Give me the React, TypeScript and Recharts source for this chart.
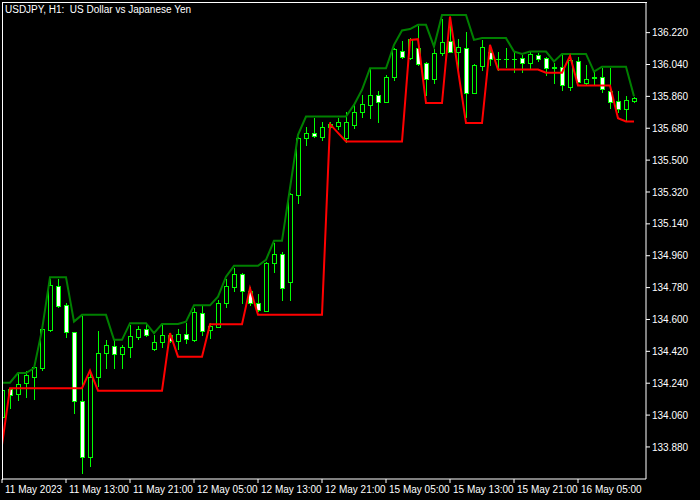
import React from "react";
import { ComposedChart, Bar, Line, XAxis, YAxis } from "recharts";

const FONT = "'Liberation Sans', Arial, sans-serif";

// time axis labels, one every 8 bars
const timeTicks = [0, 8, 16, 24, 32, 40, 48, 56, 64, 72];
const timeLabels = [
  "11 May 2023",
  "11 May 13:00",
  "11 May 21:00",
  "12 May 05:00",
  "12 May 13:00",
  "12 May 21:00",
  "15 May 05:00",
  "15 May 13:00",
  "15 May 21:00",
  "16 May 05:00",
];

const priceTicks = [
  133.88, 134.06, 134.24, 134.42, 134.6, 134.78, 134.96, 135.14, 135.32, 135.5,
  135.68, 135.86, 136.04, 136.22,
];

// USDJPY H1 candles
const opens = [
  134.050, 134.208, 134.178, 134.240, 134.277, 134.328, 134.541, 134.790, 134.682, 134.530,
  134.139, 133.826, 134.277, 134.410, 134.452, 134.404, 134.443, 134.503, 134.545, 134.432,
  134.475, 134.511, 134.481, 134.519, 134.485, 134.635, 134.541, 134.560, 134.692, 134.786,
  134.856, 134.758, 134.692, 134.650, 134.921, 134.970, 134.814, 135.304, 135.624, 135.652,
  135.633, 135.688, 135.693, 135.627, 135.699, 135.769, 135.812, 135.868, 135.831, 135.968,
  136.119, 136.076, 136.132, 136.047, 135.957, 136.104, 136.175, 136.113, 136.132, 135.881,
  136.032, 136.113, 136.072, 136.070, 136.072, 136.076, 136.051, 136.094, 136.076, 136.022,
  136.028, 135.915, 136.057, 135.938, 135.966, 135.968, 135.893, 135.835, 135.788, 135.836,
];
const highs = [
  134.214, 134.214, 134.293, 134.308, 134.333, 134.551, 134.831, 134.831, 134.692, 134.532,
  134.620, 134.306, 134.537, 134.485, 134.485, 134.456, 134.569, 134.564, 134.569, 134.513,
  134.569, 134.524, 134.547, 134.579, 134.667, 134.682, 134.579, 134.711, 134.828, 134.893,
  134.863, 134.786, 134.745, 134.922, 135.031, 134.983, 135.312, 135.628, 135.689, 135.737,
  135.714, 135.716, 135.737, 135.774, 135.812, 135.868, 136.019, 135.891, 135.981, 136.131,
  136.175, 136.188, 136.258, 136.052, 136.127, 136.296, 136.311, 136.183, 136.226, 136.041,
  136.179, 136.132, 136.113, 136.132, 136.113, 136.094, 136.113, 136.104, 136.080, 136.047,
  136.094, 136.094, 136.085, 136.038, 136.000, 136.019, 136.019, 135.893, 135.863, 135.859,
];
const lows = [
  134.033, 134.101, 134.146, 134.161, 134.150, 134.315, 134.537, 134.673, 134.500, 134.074,
  133.732, 133.773, 134.225, 134.325, 134.325, 134.325, 134.390, 134.490, 134.507, 134.430,
  134.447, 134.473, 134.432, 134.466, 134.481, 134.513, 134.496, 134.555, 134.669, 134.758,
  134.692, 134.682, 134.648, 134.648, 134.870, 134.711, 134.711, 135.257, 135.586, 135.633,
  135.614, 135.682, 135.675, 135.605, 135.684, 135.746, 135.737, 135.718, 135.826, 135.953,
  136.077, 136.072, 136.038, 135.868, 135.934, 136.094, 136.108, 135.991, 135.746, 135.877,
  136.010, 136.038, 136.010, 136.028, 136.000, 136.000, 136.019, 136.057, 135.981, 135.938,
  135.897, 135.897, 135.939, 135.925, 135.925, 135.887, 135.793, 135.774, 135.727, 135.831,
];
const closes = [
  134.202, 134.174, 134.236, 134.285, 134.331, 134.545, 134.794, 134.678, 134.532, 134.142,
  133.826, 134.277, 134.410, 134.456, 134.404, 134.443, 134.506, 134.545, 134.511, 134.472,
  134.511, 134.481, 134.519, 134.492, 134.641, 134.537, 134.564, 134.692, 134.790, 134.856,
  134.758, 134.692, 134.654, 134.918, 134.970, 134.777, 135.308, 135.624, 135.652, 135.637,
  135.686, 135.705, 135.714, 135.718, 135.771, 135.818, 135.868, 135.831, 135.968, 136.127,
  136.081, 136.183, 136.044, 135.957, 136.104, 136.169, 136.113, 136.138, 135.881, 136.038,
  136.138, 136.070, 136.070, 136.072, 136.070, 136.051, 136.098, 136.070, 136.019, 136.025,
  135.925, 136.066, 135.944, 135.957, 135.968, 135.901, 135.831, 135.788, 135.840, 135.853,
];

// indicator lines (green = upper, red = lower)
const upperLine = [
  134.243, 134.243, 134.297, 134.297, 134.325, 134.541, 134.839, 134.839, 134.839, 134.588,
  134.626, 134.626, 134.626, 134.626, 134.485, 134.485, 134.579, 134.579, 134.579, 134.523,
  134.575, 134.575, 134.575, 134.588, 134.680, 134.680, 134.680, 134.729, 134.842, 134.903,
  134.903, 134.903, 134.903, 134.937, 135.044, 135.044, 135.342, 135.643, 135.746, 135.746,
  135.746, 135.746, 135.746, 135.746, 135.812, 135.897, 136.019, 136.019, 136.019, 136.151,
  136.232, 136.240, 136.264, 136.264, 136.141, 136.320, 136.320, 136.320, 136.320, 136.179,
  136.189, 136.189, 136.189, 136.189, 136.113, 136.100, 136.113, 136.113, 136.113, 136.057,
  136.100, 136.100, 136.100, 136.100, 136.000, 136.028, 136.028, 136.028, 136.028, 135.860,
];
const lowerLine = [
  133.892, 134.212, 134.212, 134.212, 134.212, 134.212, 134.212, 134.212, 134.212, 134.212,
  134.212, 134.311, 134.198, 134.198, 134.198, 134.198, 134.198, 134.198, 134.198, 134.198,
  134.198, 134.523, 134.390, 134.390, 134.390, 134.390, 134.573, 134.573, 134.573, 134.573,
  134.573, 134.777, 134.626, 134.626, 134.626, 134.626, 134.626, 134.626, 134.626, 134.626,
  134.626, 135.703, 135.654, 135.605, 135.605, 135.605, 135.605, 135.605, 135.605, 135.605,
  135.605, 136.179, 136.183, 135.822, 135.822, 135.822, 136.311, 136.010, 135.709, 135.709,
  135.709, 136.151, 136.012, 136.012, 136.012, 136.012, 136.012, 136.012, 135.994, 135.994,
  135.994, 136.089, 135.921, 135.921, 135.921, 135.921, 135.921, 135.737, 135.718, 135.718,
];

const data = opens.map((o, i) => ({
  i,
  open: o,
  high: highs[i],
  low: lows[i],
  close: closes[i],
  range: [lows[i], highs[i]],
  upper: upperLine[i],
  lower: lowerLine[i],
}));

function Candle(props: any) {
  const { x, y, width, height, payload } = props;
  if (!payload) return null;
  const top = Math.min(y, y + height);
  const bottom = Math.max(y, y + height);
  const span = payload.high - payload.low;
  const k = span > 0 ? (bottom - top) / span : 0;
  const py = (v: number) => top + (payload.high - v) * k;
  const cx = Math.round(x + width / 2);
  const yo = py(payload.open);
  const yc = py(payload.close);
  const bull = payload.close >= payload.open;
  const bt = Math.round(Math.min(yo, yc));
  const bb = Math.round(Math.max(yo, yc));
  return (
    <g>
      <line
        x1={cx + 0.5}
        x2={cx + 0.5}
        y1={Math.round(top)}
        y2={Math.round(bottom) + 1}
        stroke="#00ff00"
        strokeWidth={1}
      />
      {bb - bt < 1 ? (
        <line x1={cx - 2} x2={cx + 3} y1={bt + 0.5} y2={bt + 0.5} stroke="#00ff00" />
      ) : (
        <rect
          x={cx - 1.5}
          y={bt + 0.5}
          width={4}
          height={bb - bt}
          fill={bull ? "#000000" : "#ffffff"}
          stroke="#00ff00"
          strokeWidth={1}
        />
      )}
    </g>
  );
}

function TimeTick(props: any) {
  const { x, payload } = props;
  const idx = timeTicks.indexOf(payload.value);
  return (
    <text x={x + 3} y={493} fill="#ffffff" fontSize={10} fontFamily={FONT} textAnchor="start">
      {timeLabels[idx]}
    </text>
  );
}

export default function App() {
  return (
    <div
      style={{
        position: "fixed",
        left: 0,
        top: 0,
        width: 700,
        height: 500,
        background: "#000000",
        overflow: "hidden",
      }}
    >
      <ComposedChart
        width={700}
        height={500}
        data={data}
        margin={{ top: 2, right: 0, left: 2, bottom: 0 }}
      >
        <XAxis
          dataKey="i"
          type="number"
          domain={[0, 80.5]}
          allowDataOverflow
          ticks={timeTicks}
          interval={0}
          height={21}
          tick={<TimeTick />}
          tickSize={4}
          tickLine={{ stroke: "#ffffff" }}
          axisLine={{ stroke: "#ffffff" }}
        />
        <YAxis
          orientation="right"
          type="number"
          domain={[133.699, 136.393]}
          allowDataOverflow
          ticks={priceTicks}
          interval={0}
          width={54}
          tickFormatter={(v) => Number(v).toFixed(3)}
          tick={{ fill: "#ffffff", fontSize: 10, fontFamily: FONT }}
          tickSize={4}
          tickMargin={2}
          tickLine={{ stroke: "#ffffff" }}
          axisLine={{ stroke: "#ffffff" }}
        />
        <Bar
          dataKey="range"
          barSize={5}
          isAnimationActive={false}
          shape={(p: any) => <Candle {...p} />}
        />
        <Line
          type="linear"
          dataKey="upper"
          stroke="#008000"
          strokeWidth={2}
          dot={false}
          activeDot={false}
          isAnimationActive={false}
        />
        <Line
          type="linear"
          dataKey="lower"
          stroke="#ff0000"
          strokeWidth={2}
          dot={false}
          activeDot={false}
          isAnimationActive={false}
        />
      </ComposedChart>
      <div
        style={{
          position: "absolute",
          left: 2,
          top: 2,
          width: 644,
          height: 477,
          borderLeft: "1px solid #ffffff",
          borderTop: "1px solid #ffffff",
          pointerEvents: "none",
        }}
      />
      <div
        style={{
          position: "absolute",
          left: 5,
          top: 4,
          color: "#ffffff",
          fontSize: 10,
          fontFamily: FONT,
          whiteSpace: "pre",
        }}
      >
        {"USDJPY, H1:  US Dollar vs Japanese Yen"}
      </div>
    </div>
  );
}
